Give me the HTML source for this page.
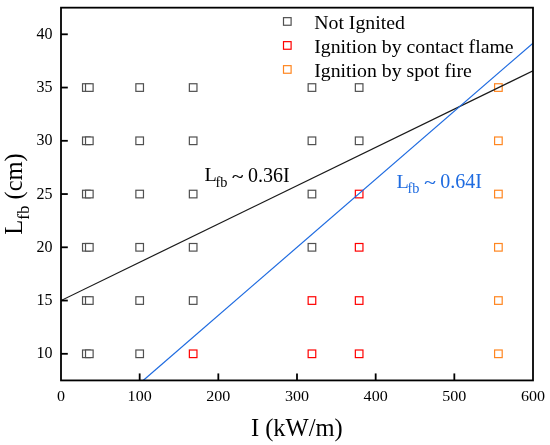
<!DOCTYPE html><html><head><meta charset="utf-8"><style>html,body{margin:0;padding:0;background:#fff;width:550px;height:445px;overflow:hidden}svg{display:block}text{font-family:"Liberation Serif",serif}</style></head><body>
<svg width="550" height="445" viewBox="0 0 550 445">
<rect width="550" height="445" fill="#fff"/>
<defs><clipPath id="c"><rect x="61.0" y="7.674999999999997" width="472.0" height="372.75"/></clipPath></defs>
<rect x="82.53" y="350.00" width="7.6" height="7.6" fill="#fff" stroke="#505050" stroke-width="1.2"/>
<rect x="82.53" y="296.75" width="7.6" height="7.6" fill="#fff" stroke="#505050" stroke-width="1.2"/>
<rect x="82.53" y="243.50" width="7.6" height="7.6" fill="#fff" stroke="#505050" stroke-width="1.2"/>
<rect x="82.53" y="190.25" width="7.6" height="7.6" fill="#fff" stroke="#505050" stroke-width="1.2"/>
<rect x="82.53" y="137.00" width="7.6" height="7.6" fill="#fff" stroke="#505050" stroke-width="1.2"/>
<rect x="82.53" y="83.75" width="7.6" height="7.6" fill="#fff" stroke="#505050" stroke-width="1.2"/>
<rect x="85.52" y="350.00" width="7.6" height="7.6" fill="#fff" stroke="#505050" stroke-width="1.2"/>
<rect x="85.52" y="296.75" width="7.6" height="7.6" fill="#fff" stroke="#505050" stroke-width="1.2"/>
<rect x="85.52" y="243.50" width="7.6" height="7.6" fill="#fff" stroke="#505050" stroke-width="1.2"/>
<rect x="85.52" y="190.25" width="7.6" height="7.6" fill="#fff" stroke="#505050" stroke-width="1.2"/>
<rect x="85.52" y="137.00" width="7.6" height="7.6" fill="#fff" stroke="#505050" stroke-width="1.2"/>
<rect x="85.52" y="83.75" width="7.6" height="7.6" fill="#fff" stroke="#505050" stroke-width="1.2"/>
<rect x="135.87" y="350.00" width="7.6" height="7.6" fill="#fff" stroke="#505050" stroke-width="1.2"/>
<rect x="135.87" y="296.75" width="7.6" height="7.6" fill="#fff" stroke="#505050" stroke-width="1.2"/>
<rect x="135.87" y="243.50" width="7.6" height="7.6" fill="#fff" stroke="#505050" stroke-width="1.2"/>
<rect x="135.87" y="190.25" width="7.6" height="7.6" fill="#fff" stroke="#505050" stroke-width="1.2"/>
<rect x="135.87" y="137.00" width="7.6" height="7.6" fill="#fff" stroke="#505050" stroke-width="1.2"/>
<rect x="135.87" y="83.75" width="7.6" height="7.6" fill="#fff" stroke="#505050" stroke-width="1.2"/>
<rect x="189.36" y="296.75" width="7.6" height="7.6" fill="#fff" stroke="#505050" stroke-width="1.2"/>
<rect x="189.36" y="243.50" width="7.6" height="7.6" fill="#fff" stroke="#505050" stroke-width="1.2"/>
<rect x="189.36" y="190.25" width="7.6" height="7.6" fill="#fff" stroke="#505050" stroke-width="1.2"/>
<rect x="189.36" y="137.00" width="7.6" height="7.6" fill="#fff" stroke="#505050" stroke-width="1.2"/>
<rect x="189.36" y="83.75" width="7.6" height="7.6" fill="#fff" stroke="#505050" stroke-width="1.2"/>
<rect x="308.15" y="243.50" width="7.6" height="7.6" fill="#fff" stroke="#505050" stroke-width="1.2"/>
<rect x="308.15" y="190.25" width="7.6" height="7.6" fill="#fff" stroke="#505050" stroke-width="1.2"/>
<rect x="308.15" y="137.00" width="7.6" height="7.6" fill="#fff" stroke="#505050" stroke-width="1.2"/>
<rect x="308.15" y="83.75" width="7.6" height="7.6" fill="#fff" stroke="#505050" stroke-width="1.2"/>
<rect x="355.35" y="137.00" width="7.6" height="7.6" fill="#fff" stroke="#505050" stroke-width="1.2"/>
<rect x="355.35" y="83.75" width="7.6" height="7.6" fill="#fff" stroke="#505050" stroke-width="1.2"/>
<rect x="189.36" y="350.00" width="7.6" height="7.6" fill="#fff" stroke="#ff0000" stroke-width="1.2"/>
<rect x="308.15" y="350.00" width="7.6" height="7.6" fill="#fff" stroke="#ff0000" stroke-width="1.2"/>
<rect x="308.15" y="296.75" width="7.6" height="7.6" fill="#fff" stroke="#ff0000" stroke-width="1.2"/>
<rect x="355.35" y="350.00" width="7.6" height="7.6" fill="#fff" stroke="#ff0000" stroke-width="1.2"/>
<rect x="355.35" y="296.75" width="7.6" height="7.6" fill="#fff" stroke="#ff0000" stroke-width="1.2"/>
<rect x="355.35" y="243.50" width="7.6" height="7.6" fill="#fff" stroke="#ff0000" stroke-width="1.2"/>
<rect x="355.35" y="190.25" width="7.6" height="7.6" fill="#fff" stroke="#ff0000" stroke-width="1.2"/>
<rect x="494.59" y="350.00" width="7.6" height="7.6" fill="#fff" stroke="#ff8620" stroke-width="1.2"/>
<rect x="494.59" y="296.75" width="7.6" height="7.6" fill="#fff" stroke="#ff8620" stroke-width="1.2"/>
<rect x="494.59" y="243.50" width="7.6" height="7.6" fill="#fff" stroke="#ff8620" stroke-width="1.2"/>
<rect x="494.59" y="190.25" width="7.6" height="7.6" fill="#fff" stroke="#ff8620" stroke-width="1.2"/>
<rect x="494.59" y="137.00" width="7.6" height="7.6" fill="#fff" stroke="#ff8620" stroke-width="1.2"/>
<rect x="494.59" y="83.75" width="7.6" height="7.6" fill="#fff" stroke="#ff8620" stroke-width="1.2"/>
<g clip-path="url(#c)"><line x1="61.00" y1="300.55" x2="533.00" y2="70.83" stroke="#1a1a1a" stroke-width="1.2"/>
<line x1="143.13" y1="380.43" x2="533.00" y2="43.14" stroke="#1e6be0" stroke-width="1.2"/></g>
<rect x="61.0" y="7.67" width="472.0" height="372.75" fill="none" stroke="#000" stroke-width="1.8"/>
<line x1="61.0" y1="353.80" x2="67.8" y2="353.80" stroke="#000" stroke-width="1.8"/>
<text x="52.4" y="358.30" font-size="16" text-anchor="end">10</text>
<line x1="61.0" y1="300.55" x2="67.8" y2="300.55" stroke="#000" stroke-width="1.8"/>
<text x="52.4" y="305.05" font-size="16" text-anchor="end">15</text>
<line x1="61.0" y1="247.30" x2="67.8" y2="247.30" stroke="#000" stroke-width="1.8"/>
<text x="52.4" y="251.80" font-size="16" text-anchor="end">20</text>
<line x1="61.0" y1="194.05" x2="67.8" y2="194.05" stroke="#000" stroke-width="1.8"/>
<text x="52.4" y="198.55" font-size="16" text-anchor="end">25</text>
<line x1="61.0" y1="140.80" x2="67.8" y2="140.80" stroke="#000" stroke-width="1.8"/>
<text x="52.4" y="145.30" font-size="16" text-anchor="end">30</text>
<line x1="61.0" y1="87.55" x2="67.8" y2="87.55" stroke="#000" stroke-width="1.8"/>
<text x="52.4" y="92.05" font-size="16" text-anchor="end">35</text>
<line x1="61.0" y1="34.30" x2="67.8" y2="34.30" stroke="#000" stroke-width="1.8"/>
<text x="52.4" y="38.80" font-size="16" text-anchor="end">40</text>
<text transform="translate(61.00,401.2) scale(1.03,1)" font-size="15.6" text-anchor="middle">0</text>
<line x1="139.67" y1="380.43" x2="139.67" y2="373.43" stroke="#000" stroke-width="1.8"/>
<text transform="translate(139.67,401.2) scale(1.03,1)" font-size="15.6" text-anchor="middle">100</text>
<line x1="218.33" y1="380.43" x2="218.33" y2="373.43" stroke="#000" stroke-width="1.8"/>
<text transform="translate(218.33,401.2) scale(1.03,1)" font-size="15.6" text-anchor="middle">200</text>
<line x1="297.00" y1="380.43" x2="297.00" y2="373.43" stroke="#000" stroke-width="1.8"/>
<text transform="translate(297.00,401.2) scale(1.03,1)" font-size="15.6" text-anchor="middle">300</text>
<line x1="375.67" y1="380.43" x2="375.67" y2="373.43" stroke="#000" stroke-width="1.8"/>
<text transform="translate(375.67,401.2) scale(1.03,1)" font-size="15.6" text-anchor="middle">400</text>
<line x1="454.33" y1="380.43" x2="454.33" y2="373.43" stroke="#000" stroke-width="1.8"/>
<text transform="translate(454.33,401.2) scale(1.03,1)" font-size="15.6" text-anchor="middle">500</text>
<text transform="translate(533.00,401.2) scale(1.03,1)" font-size="15.6" text-anchor="middle">600</text>
<text x="296.8" y="435.5" font-size="24.5" text-anchor="middle">I (kW/m)</text>
<text transform="translate(22.2,194) rotate(-90)" font-size="24.5" text-anchor="middle">L<tspan font-size="17" dy="7">fb</tspan><tspan dy="-7"> (cm)</tspan></text>
<g fill="#000" color="#000" transform="translate(0,0)"><text transform="translate(204.4,181.3) scale(1.06,1)" font-size="19">L</text><text x="215.6" y="186.6" font-size="14.3">fb</text><text transform="translate(232.0,183.20) scale(1.02,0.85)" font-size="21" stroke="currentColor" stroke-width="0.25">~</text><text x="248.0" y="181.8" font-size="20">0.36I</text></g>
<g fill="#1e6be0" color="#1e6be0" transform="translate(192.2,6.4)"><text transform="translate(204.4,181.3) scale(1.06,1)" font-size="19">L</text><text x="215.4" y="186.5" font-size="14.3">fb</text><text transform="translate(232.0,182.20) scale(1.02,0.85)" font-size="21" stroke="currentColor" stroke-width="0.25">~</text><text x="248.0" y="181.8" font-size="20">0.64I</text></g>
<rect x="283.50" y="17.65" width="7.6" height="7.6" fill="#fff" stroke="#505050" stroke-width="1.2"/>
<text transform="translate(314.2,28.60) scale(1.1,1)" font-size="18">Not Ignited</text>
<rect x="283.50" y="41.65" width="7.6" height="7.6" fill="#fff" stroke="#ff0000" stroke-width="1.2"/>
<text transform="translate(314.2,52.60) scale(1.1,1)" font-size="18">Ignition by contact flame</text>
<rect x="283.50" y="65.65" width="7.6" height="7.6" fill="#fff" stroke="#ff8620" stroke-width="1.2"/>
<text transform="translate(314.2,76.60) scale(1.1,1)" font-size="18">Ignition by spot fire</text>
</svg></body></html>
